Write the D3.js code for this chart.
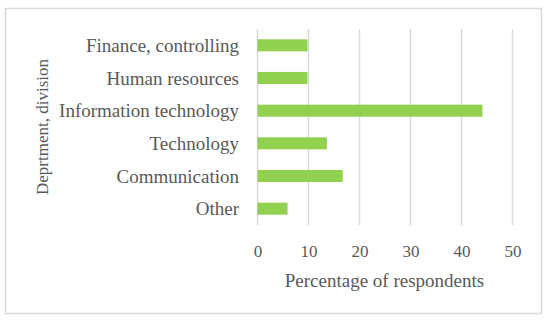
<!DOCTYPE html>
<html><head><meta charset="utf-8">
<script src="https://cdn.jsdelivr.net/npm/d3@7"></script>
<style>
html,body{margin:0;padding:0;background:#fff;}
text{font-family:"Liberation Serif","Times New Roman",serif;fill:#595959;}
</style></head>
<body><svg id="c" width="550" height="322"></svg>
<script>
const categories = ["Finance, controlling ", "Human resources", "Information technology", "Technology", "Communication", "Other"];
const values = [9.8, 9.8, 44.1, 13.6, 16.7, 5.9];
const xTicks = [0, 10, 20, 30, 40, 50];
const xTitle = "Percentage of respondents";
const yTitle = "Deprtment, division";

const svg = d3.select("#c");
svg.append("rect").attr("x",5.5).attr("y",8.5).attr("width",536).attr("height",305)
  .attr("fill","#fff").attr("stroke","#d9d9d9").attr("stroke-width",1.5);

const x = d3.scaleLinear().domain([0,50]).range([257.5,512.5]);
const y = d3.scaleBand().domain(categories).range([29,225]).paddingInner(0.63).paddingOuter(0.315);

const g = svg.append("g");
g.selectAll("line.grid").data(xTicks).join("line").attr("class","grid")
  .attr("x1",d=>x(d)).attr("x2",d=>x(d)).attr("y1",29).attr("y2",225)
  .attr("stroke","#d9d9d9").attr("stroke-width",1.5);

g.selectAll("rect.bar").data(values).join("rect").attr("class","bar")
  .attr("x",x(0)).attr("y",(d,i)=>y(categories[i]))
  .attr("width",d=>x(d)-x(0)).attr("height",y.bandwidth())
  .attr("fill","#92d050");

const xAxis = d3.axisBottom(x).tickValues(xTicks).tickSize(0).tickPadding(0);
const xa = svg.append("g").attr("transform","translate(0,257)").call(xAxis);
xa.select(".domain").remove();
xa.selectAll("text").attr("dy",0).style("font-size","17px").style("font-family",null);

const yAxis = d3.axisLeft(y).tickSize(0).tickPadding(0);
const ya = svg.append("g").attr("transform","translate(239,0)").call(yAxis);
ya.select(".domain").remove();
ya.selectAll("text").attr("dy","0.35em").attr("x",0).style("font-size","19px").style("font-family",null);

svg.append("text").attr("x",(284+485)/2).attr("y",286.5).attr("text-anchor","middle")
  .style("font-size","19px").text(xTitle);
svg.append("text").attr("transform","translate(48,127) rotate(-90)").attr("text-anchor","middle")
  .style("font-size","17px").text(yTitle);
</script></body></html>
